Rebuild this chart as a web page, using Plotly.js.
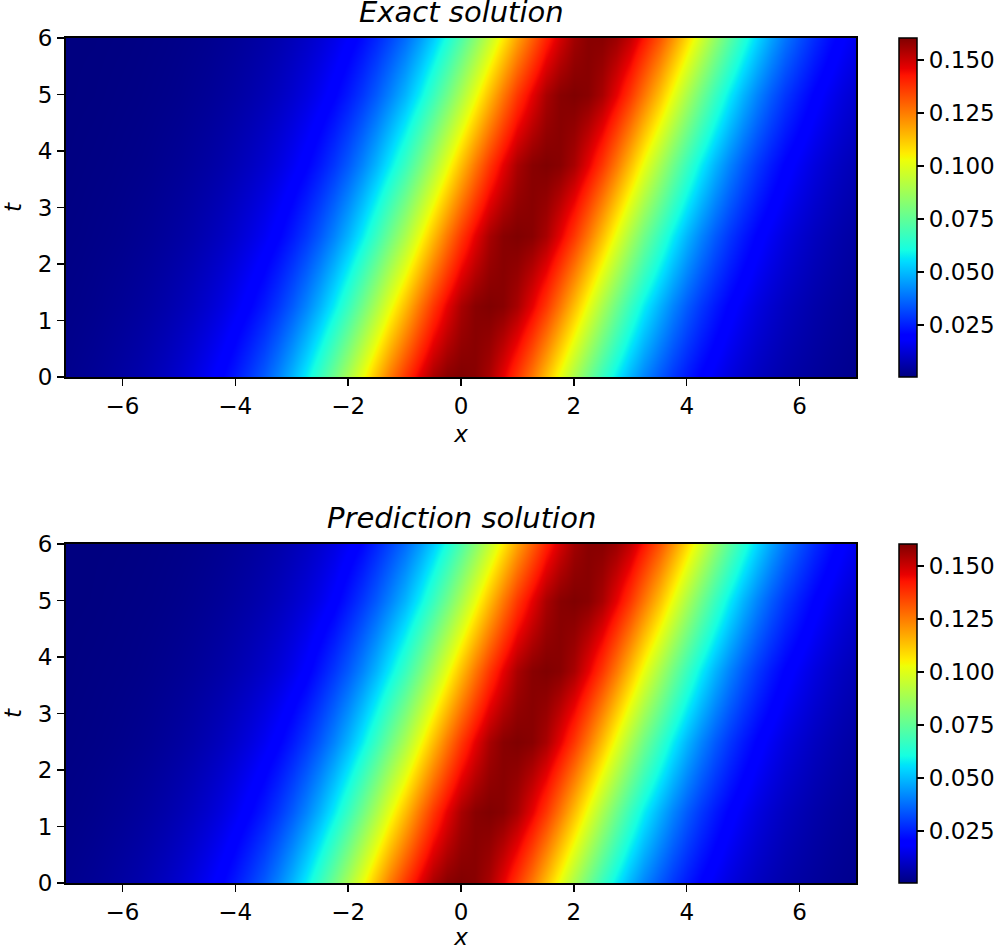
<!DOCTYPE html>
<html><head><meta charset="utf-8">
<script src="https://cdn.plot.ly/plotly-3.0.1.min.js"></script>
<style>html,body{margin:0;padding:0;background:#fff}#c{width:1000px;height:950px}</style>
</head><body><div id="c"></div>
<script>
const xValues=[-7,-6.75,-6.5,-6.25,-6,-5.75,-5.5,-5.25,-5,-4.75,-4.5,-4.25,-4,-3.75,-3.5,-3.25,-3,-2.75,-2.5,-2.25,-2,-1.75,-1.5,-1.25,-1,-0.75,-0.5,-0.25,0,0.25,0.5,0.75,1,1.25,1.5,1.75,2,2.25,2.5,2.75,3,3.25,3.5,3.75,4,4.25,4.5,4.75,5,5.25,5.5,5.75,6,6.25,6.5,6.75,7];
const tValues=[0,1.25,2.5,3.75,5,6.25];
const exactValues=[
[.0023,.0029,.0035,.0043,.0052,.0063,.0077,.0093,.0113,.0137,.0166,.0200,.0241,.0289,.0346,.0412,.0488,.0575,.0672,.0779,.0894,.1016,.1139,.1258,.1369,.1464,.1548,.1592,.1604,.1592,.1548,.1464,.1369,.1258,.1139,.1016,.0894,.0779,.0672,.0575,.0488,.0412,.0346,.0289,.0241,.0200,.0166,.0137,.0113,.0093,.0077,.0063,.0052,.0043,.0035,.0029,.0023],
[.0016,.0019,.0023,.0029,.0035,.0043,.0052,.0063,.0077,.0093,.0113,.0137,.0166,.0200,.0241,.0289,.0346,.0412,.0488,.0575,.0672,.0779,.0894,.1016,.1139,.1258,.1369,.1464,.1548,.1592,.1604,.1592,.1548,.1464,.1369,.1258,.1139,.1016,.0894,.0779,.0672,.0575,.0488,.0412,.0346,.0289,.0241,.0200,.0166,.0137,.0113,.0093,.0077,.0063,.0052,.0043,.0035],
[.0011,.0013,.0016,.0019,.0023,.0029,.0035,.0043,.0052,.0063,.0077,.0093,.0113,.0137,.0166,.0200,.0241,.0289,.0346,.0412,.0488,.0575,.0672,.0779,.0894,.1016,.1139,.1258,.1369,.1464,.1548,.1592,.1604,.1592,.1548,.1464,.1369,.1258,.1139,.1016,.0894,.0779,.0672,.0575,.0488,.0412,.0346,.0289,.0241,.0200,.0166,.0137,.0113,.0093,.0077,.0063,.0052],
[.0007,.0009,.0011,.0013,.0016,.0019,.0023,.0029,.0035,.0043,.0052,.0063,.0077,.0093,.0113,.0137,.0166,.0200,.0241,.0289,.0346,.0412,.0488,.0575,.0672,.0779,.0894,.1016,.1139,.1258,.1369,.1464,.1548,.1592,.1604,.1592,.1548,.1464,.1369,.1258,.1139,.1016,.0894,.0779,.0672,.0575,.0488,.0412,.0346,.0289,.0241,.0200,.0166,.0137,.0113,.0093,.0077],
[.0005,.0006,.0007,.0009,.0011,.0013,.0016,.0019,.0023,.0029,.0035,.0043,.0052,.0063,.0077,.0093,.0113,.0137,.0166,.0200,.0241,.0289,.0346,.0412,.0488,.0575,.0672,.0779,.0894,.1016,.1139,.1258,.1369,.1464,.1548,.1592,.1604,.1592,.1548,.1464,.1369,.1258,.1139,.1016,.0894,.0779,.0672,.0575,.0488,.0412,.0346,.0289,.0241,.0200,.0166,.0137,.0113],
[.0005,.0005,.0005,.0006,.0007,.0009,.0011,.0013,.0016,.0019,.0023,.0029,.0035,.0043,.0052,.0063,.0077,.0093,.0113,.0137,.0166,.0200,.0241,.0289,.0346,.0412,.0488,.0575,.0672,.0779,.0894,.1016,.1139,.1258,.1369,.1464,.1548,.1592,.1604,.1592,.1548,.1464,.1369,.1258,.1139,.1016,.0894,.0779,.0672,.0575,.0488,.0412,.0346,.0289,.0241,.0200,.0166]
];
const predictionValues=[
[.0024,.0029,.0035,.0043,.0052,.0063,.0077,.0093,.0113,.0137,.0166,.0200,.0241,.0289,.0346,.0412,.0488,.0575,.0672,.0779,.0894,.1016,.1139,.1258,.1369,.1464,.1548,.1592,.1604,.1592,.1548,.1464,.1369,.1258,.1139,.1016,.0894,.0779,.0672,.0575,.0488,.0412,.0346,.0289,.0241,.0200,.0166,.0137,.0113,.0093,.0077,.0063,.0052,.0043,.0035,.0029,.0024],
[.0015,.0018,.0022,.0028,.0034,.0042,.0051,.0062,.0076,.0092,.0112,.0136,.0165,.0200,.0241,.0289,.0346,.0412,.0488,.0575,.0672,.0779,.0894,.1016,.1139,.1258,.1369,.1464,.1548,.1592,.1604,.1592,.1548,.1464,.1369,.1258,.1139,.1016,.0894,.0779,.0672,.0575,.0488,.0412,.0346,.0289,.0241,.0200,.0166,.0137,.0113,.0093,.0077,.0063,.0052,.0043,.0036],
[.0010,.0012,.0014,.0017,.0021,.0026,.0032,.0040,.0049,.0060,.0074,.0090,.0110,.0134,.0164,.0198,.0240,.0289,.0346,.0412,.0488,.0575,.0672,.0779,.0894,.1016,.1139,.1258,.1369,.1464,.1548,.1592,.1604,.1592,.1548,.1464,.1369,.1258,.1139,.1016,.0894,.0779,.0672,.0575,.0488,.0412,.0346,.0289,.0241,.0200,.0166,.0137,.0114,.0094,.0078,.0064,.0053],
[.0006,.0008,.0010,.0012,.0014,.0017,.0021,.0026,.0032,.0039,.0048,.0058,.0071,.0086,.0105,.0127,.0155,.0190,.0238,.0289,.0346,.0412,.0488,.0575,.0672,.0779,.0894,.1016,.1139,.1258,.1369,.1464,.1548,.1592,.1604,.1592,.1548,.1464,.1369,.1258,.1139,.1016,.0894,.0779,.0672,.0575,.0488,.0412,.0346,.0289,.0241,.0200,.0167,.0138,.0114,.0094,.0078],
[.0005,.0005,.0006,.0008,.0010,.0012,.0014,.0017,.0021,.0026,.0032,.0039,.0048,.0058,.0071,.0086,.0105,.0127,.0155,.0190,.0238,.0289,.0346,.0412,.0488,.0575,.0672,.0779,.0894,.1016,.1139,.1258,.1369,.1464,.1548,.1592,.1604,.1592,.1548,.1464,.1369,.1258,.1139,.1016,.0894,.0779,.0672,.0575,.0488,.0412,.0346,.0289,.0242,.0201,.0167,.0138,.0114],
[.0005,.0005,.0005,.0005,.0006,.0008,.0010,.0012,.0014,.0017,.0021,.0026,.0032,.0039,.0048,.0058,.0071,.0086,.0105,.0127,.0155,.0190,.0238,.0289,.0346,.0412,.0488,.0575,.0672,.0779,.0894,.1016,.1139,.1258,.1369,.1464,.1548,.1592,.1604,.1592,.1548,.1464,.1369,.1258,.1139,.1016,.0894,.0779,.0672,.0575,.0488,.0412,.0346,.0289,.0242,.0201,.0167]
];
const xTicks=[-6,-4,-2,0,2,4,6];
const tTicks=[0,1,2,3,4,5,6];
const barTicks=[0.025,0.05,0.075,0.1,0.125,0.15];
const titles=['Exact solution','Prediction solution'];

const jet=[[0,'rgb(0,0,128)'],[.11,'rgb(0,0,255)'],[.125,'rgb(0,0,255)'],[.34,'rgb(0,219,255)'],[.35,'rgb(0,230,247)'],[.375,'rgb(21,255,226)'],[.64,'rgb(238,255,8)'],[.65,'rgb(247,246,0)'],[.66,'rgb(255,236,0)'],[.89,'rgb(255,19,0)'],[.91,'rgb(232,0,0)'],[1,'rgb(128,0,0)']];
const FONT='"DejaVu Sans"';
const TS=23;
const W=1000,H=950;
const P1={l:66,r:856,t:38,b:377};
const P2={l:66,r:856,t:544,b:883};
function bar(p){return {x:898.8/W,xanchor:'left',xpad:0,y:(H-p.b)/H,yanchor:'bottom',ypad:0,len:(p.b-p.t)/H,lenmode:'fraction',yref:'paper',
  thickness:18,thicknessmode:'pixels',outlinecolor:'#000',outlinewidth:1.5,ticks:'outside',ticklen:7,tickwidth:1.3,tickcolor:'#000',
  tickvals:barTicks,tickformat:'.3f',tickprefix:'<span style="font-size:12px">&nbsp;</span>',tickfont:{family:FONT,size:TS,color:'#000'}};}
function hm(z,xa,ya,p){return {type:'heatmap',x:xValues,y:tValues,z:z,xaxis:xa,yaxis:ya,zmin:0.0005,zmax:0.1604,colorscale:jet,zsmooth:'best',colorbar:bar(p)};}
function ax(extra){return Object.assign({showline:true,mirror:true,linecolor:'#000',linewidth:2,ticks:'outside',ticklen:7,tickwidth:1.3,tickcolor:'#000',showgrid:false,zeroline:false,tickfont:{family:FONT,size:TS,color:'#000'}},extra);}
function xa(p,anchor){return ax({domain:[p.l/W,p.r/W],range:[-7,7],autorange:false,anchor:anchor,tickmode:'array',tickvals:xTicks,title:{text:'<i>x</i>',font:{family:FONT,size:TS,color:'#000'},standoff:8}});}
function ya(p,anchor){return ax({domain:[(H-p.b)/H,(H-p.t)/H],range:[0,6],autorange:false,anchor:anchor,tickmode:'array',tickvals:tTicks,title:{text:'<i>t</i>',font:{family:FONT,size:TS,color:'#000'},standoff:17}});}
function ann(text,p){return {text:'<i>'+text+'</i>',xref:'paper',yref:'paper',x:(p.l+p.r)/2/W,y:(H-p.t)/H+0.0085,xanchor:'center',yanchor:'bottom',showarrow:false,font:{family:FONT,size:29,color:'#000'},borderpad:0};}
Plotly.newPlot('c',[hm(exactValues,'x','y',P1),hm(predictionValues,'x2','y2',P2)],{
  width:W,height:H,margin:{l:0,r:0,t:0,b:0},paper_bgcolor:'#fff',plot_bgcolor:'#fff',showlegend:false,
  font:{family:FONT,color:'#000'},
  xaxis:xa(P1,'y'),yaxis:ya(P1,'x'),xaxis2:xa(P2,'y2'),yaxis2:ya(P2,'x2'),
  annotations:[ann(titles[0],P1),ann(titles[1],P2)]
},{displayModeBar:false,staticPlot:true});
</script></body></html>
